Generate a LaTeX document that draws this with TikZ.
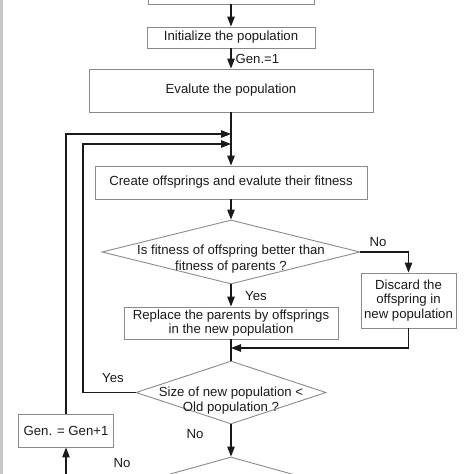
\documentclass[tikz,border=0pt]{standalone}
\usepackage{fontspec}
\setmainfont{Liberation Sans}
\usetikzlibrary{arrows.meta,shapes.geometric}
\definecolor{boxline}{HTML}{8A8A8A}
\definecolor{txt}{HTML}{1A1A1A}
\tikzset{
  box/.style={draw=boxline,line width=0.9pt,rectangle,inner sep=0pt,align=center,text=txt,
    font=\fontsize{13.2}{14.5}\selectfont},
  dia/.style={draw=boxline,line width=0.9pt,diamond,inner sep=0pt},
  dtext/.style={align=center,text=txt,font=\fontsize{13.2}{15.5}\selectfont},
  conn/.style={draw=txt,line width=1.2pt,-{Triangle[length=10pt,width=7.5pt]}},
  plain/.style={draw=txt,line width=1.2pt},
  lbl/.style={text=txt,font=\fontsize{13.2}{14}\selectfont,inner sep=0pt}
}
\begin{document}
\begin{tikzpicture}[x=1pt,y=-1pt]
\useasboundingbox (0,0) rectangle (474,474);
\clip (0,0) rectangle (474,474);
\fill[gray!45] (0,0) rectangle (2.5,474);

\node[box,minimum width=166,minimum height=40] (top) at (231,-16) {};
\node[box,minimum width=168,minimum height=21] (init) at (231,37.5) {Initialize the population};
\node[box,minimum width=284,minimum height=43] (eval) at (231,90.5) {Evalute the population};
\node[box,minimum width=272,minimum height=33] (create) at (231,182.5) {Create offsprings and evalute their fitness};
\node[dia,minimum width=258,minimum height=64,
  label={[dtext,yshift=-7pt]center:Is fitness of offspring better than\\fitness of parents ?}] (d1) at (231,252) {};
\node[box,minimum width=95,minimum height=55] (discard) at (408.5,300.5) {Discard the\\offspring in\\new population};
\node[box,minimum width=214,minimum height=32] (replace) at (231,323) {Replace the parents by offsprings\\in the new population};
\node[dia,minimum width=190,minimum height=63,
  label={[dtext,yshift=-8pt]center:Size of new population <\\Old population ?}] (d2) at (231,392.5) {};
\node[box,minimum width=95,minimum height=33] (gen) at (66,430.5) {Gen. = Gen+1};
\node[dia,minimum width=230,minimum height=64] (d3) at (231,489) {};

\coordinate (j1) at (231,134);
\coordinate (j2) at (231,144);
\coordinate (j3) at (231,348);
\coordinate (bot) at (66,480);

\draw[conn] (top.south) -- (init.north);
\draw[conn] (init.south) -- node[lbl,right,xshift=4pt]{Gen.=1} (eval.north);
\draw[conn] (eval.south) -- (create.north);
\draw[conn] (gen.north) |- (j1);
\draw[conn] (d2.west) -- (83,392.5) |- (j2);
\draw[conn] (create.south) -- (d1.north);
\draw[conn] (d1.east) -| (discard.north);
\draw[conn] (d1.south) -- (replace.north);
\draw[conn] (discard.south) |- (j3);
\draw[plain] (replace.south) -- (d2.north);
\draw[conn] (d2.south) -- (d3.north);
\draw[conn] (bot) -- (gen.south);

\node[lbl] at (378,242) {No};
\node[lbl] at (256,296) {Yes};
\node[lbl] at (113,378) {Yes};
\node[lbl] at (195,434) {No};
\node[lbl] at (122,463) {No};
\end{tikzpicture}
\end{document}
